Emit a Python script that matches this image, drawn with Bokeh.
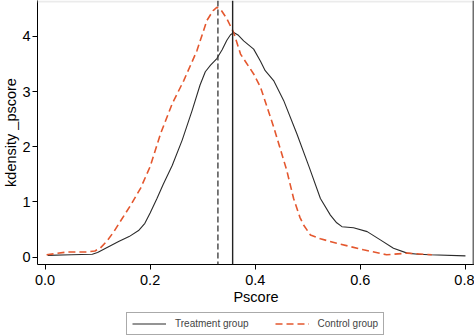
from bokeh.plotting import figure
from bokeh.layouts import column
from bokeh.models import Range1d, Span, Legend, LegendItem, BoxAnnotation, FixedTicker, CustomJSTickFormatter
from bokeh.embed import file_html
from bokeh.resources import INLINE

# ---- data ----
treat_x = [0.005, 0.05, 0.09, 0.10, 0.12, 0.14, 0.16, 0.178, 0.19, 0.20, 0.213, 0.225, 0.242,
           0.261, 0.280, 0.295, 0.305, 0.315, 0.327, 0.337, 0.346, 0.353, 0.359, 0.368,
           0.378, 0.397, 0.41, 0.419, 0.435, 0.454, 0.479, 0.503, 0.524, 0.543, 0.555,
           0.565, 0.587, 0.613, 0.638, 0.663, 0.689, 0.71, 0.733, 0.80]
treat_y = [0.03, 0.04, 0.05, 0.08, 0.18, 0.28, 0.37, 0.48, 0.61, 0.80, 1.06, 1.32, 1.66,
           2.12, 2.66, 3.12, 3.36, 3.48, 3.60, 3.76, 3.93, 4.03, 4.07, 4.02,
           3.92, 3.77, 3.55, 3.38, 3.20, 2.84, 2.24, 1.62, 1.06, 0.76, 0.62,
           0.55, 0.53, 0.46, 0.31, 0.16, 0.07, 0.05, 0.04, 0.02]

ctrl_x = [0.003, 0.042, 0.08, 0.095, 0.105, 0.118, 0.131, 0.163, 0.182, 0.20, 0.22, 0.242,
          0.264, 0.289, 0.308, 0.320, 0.327, 0.335, 0.346, 0.359, 0.372, 0.397, 0.41,
          0.435, 0.46, 0.473, 0.485, 0.492, 0.505, 0.524, 0.555, 0.606, 0.65, 0.689, 0.736]
ctrl_y = [0.04, 0.09, 0.09, 0.11, 0.16, 0.29, 0.46, 0.94, 1.25, 1.64, 2.24, 2.78,
          3.20, 3.74, 4.29, 4.47, 4.53, 4.48, 4.32, 4.07, 3.68, 3.32, 3.08,
          2.36, 1.57, 1.06, 0.72, 0.58, 0.40, 0.33, 0.25, 0.13, 0.04, 0.07, 0.04]

ctrl_mean = 0.329
treat_mean = 0.357

x_ticks = [0.0, 0.2, 0.4, 0.6, 0.8]
y_ticks = [0, 1, 2, 3, 4]
series_labels = ["Treatment group", "Control group"]

FONT = "Liberation Sans"
TREAT_STYLE = dict(line_color="#2b2b2b", line_width=1.1)
CTRL_STYLE = dict(line_color="#e4572e", line_width=1.6, line_dash="7 4")
X0, X1 = -0.0143, 0.8172
Y0, Y1 = -0.136, 4.652

p = figure(width=474, height=312, output_backend="svg", toolbar_location=None,
           x_range=Range1d(X0, X1), y_range=Range1d(Y0, Y1),
           min_border_left=37, min_border_right=0, min_border_top=0, min_border_bottom=48)
p.outline_line_color = None
p.xgrid.visible = False
p.ygrid.visible = False
p.background_fill_color = "white"
p.border_fill_color = "white"

for ax in (p.xaxis[0], p.yaxis[0]):
    ax.axis_line_color = "black"
    ax.axis_line_width = 1
    ax.major_tick_line_color = "black"
    ax.major_tick_out = 5
    ax.major_tick_in = 0
    ax.minor_tick_line_color = None
    ax.major_label_text_font = FONT
    ax.major_label_text_font_size = "14.5px"
    ax.major_label_text_color = "black"
    ax.axis_label_text_font = FONT
    ax.axis_label_text_font_size = "14.5px"
    ax.axis_label_text_font_style = "normal"
    ax.axis_label_text_color = "black"

p.xaxis.ticker = FixedTicker(ticks=x_ticks)
p.xaxis.formatter = CustomJSTickFormatter(code="return tick.toFixed(1);")
p.xaxis.major_label_standoff = 5
p.xaxis.axis_label = "Pscore"
p.xaxis.axis_label_standoff = 1

p.yaxis.ticker = FixedTicker(ticks=y_ticks)
p.yaxis.major_label_orientation = "horizontal"
p.yaxis.major_label_standoff = 2
p.yaxis.axis_label = "kdensity _pscore"
p.yaxis.axis_label_standoff = 0

# decorative top band and right border like the reference crop
p.add_layout(BoxAnnotation(bottom=Y1 - 2.0 / 55.25, fill_color="#ebebeb", fill_alpha=1, line_color=None))
p.add_layout(BoxAnnotation(left=X1 - 2.0 / 525.6, fill_color="#6e6e6e", fill_alpha=1, line_color=None))

p.line(treat_x, treat_y, **TREAT_STYLE)
p.line(ctrl_x, ctrl_y, **CTRL_STYLE)

p.add_layout(Span(location=ctrl_mean, dimension="height", line_color="#333333",
                  line_width=1.3, line_dash="6 3"))
p.add_layout(Span(location=treat_mean, dimension="height", line_color="#222222",
                  line_width=1.4))

# ---- legend strip below the plot (same series, renderers hidden) ----
lg = figure(width=474, height=23, output_backend="svg", toolbar_location=None,
            x_range=Range1d(X0, X1), y_range=Range1d(Y0, Y1),
            x_axis_location=None, y_axis_location=None,
            min_border_left=0, min_border_right=0, min_border_top=0, min_border_bottom=0)
lg.xgrid.visible = False
lg.ygrid.visible = False
lg.outline_line_color = None
lg.border_fill_color = "white"
lg.background_fill_color = "white"
lt = lg.line(treat_x, treat_y, visible=False, **TREAT_STYLE)
lc = lg.line(ctrl_x, ctrl_y, visible=False, **CTRL_STYLE)

legend = Legend(items=[LegendItem(label=series_labels[0], renderers=[lt]),
                       LegendItem(label=series_labels[1], renderers=[lc])],
                orientation="horizontal", location=(89, 0),
                label_text_font=FONT, label_text_font_size="10px",
                glyph_width=34, glyph_height=11, label_height=11, label_standoff=9,
                spacing=26, padding=5, margin=0,
                border_line_color="#555555", border_line_width=1,
                background_fill_color="white", background_fill_alpha=1)
lg.add_layout(legend, "center")

layout = column(p, lg, spacing=0)
open("out.html", "w").write(file_html(layout, INLINE))
